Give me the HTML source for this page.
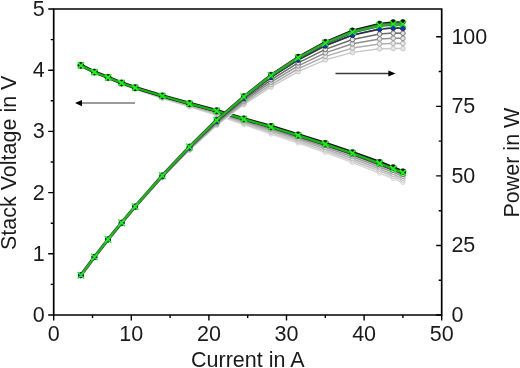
<!DOCTYPE html>
<html><head><meta charset="utf-8"><style>
html,body{margin:0;padding:0;background:#fff;}
svg{display:block;}
text{font-family:"Liberation Sans",Arial,sans-serif;font-size:21.5px;fill:#1a1a1a;}
</style></head><body>
<svg width="520" height="368" viewBox="0 0 520 368">
<rect width="520" height="368" fill="#fff"/>
<g><polyline points="80.86,66.01 94.44,72.94 108.02,78.40 121.60,84.28 135.18,89.17 162.34,98.47 189.50,106.86 216.66,115.18 243.82,124.55 270.98,134.03 298.14,143.11 325.30,152.55 352.46,162.61 379.62,173.14 393.20,178.52 402.90,182.38" fill="none" stroke="#d8d8d8" stroke-width="1.6" stroke-linejoin="round"/>
<circle cx="80.86" cy="66.01" r="2.2" fill="#f0f0f0" stroke="#d8d8d8" stroke-width="0.9"/><circle cx="94.44" cy="72.94" r="2.2" fill="#f0f0f0" stroke="#d8d8d8" stroke-width="0.9"/><circle cx="108.02" cy="78.40" r="2.2" fill="#f0f0f0" stroke="#d8d8d8" stroke-width="0.9"/><circle cx="121.60" cy="84.28" r="2.2" fill="#f0f0f0" stroke="#d8d8d8" stroke-width="0.9"/><circle cx="135.18" cy="89.17" r="2.2" fill="#f0f0f0" stroke="#d8d8d8" stroke-width="0.9"/><circle cx="162.34" cy="98.47" r="2.2" fill="#f0f0f0" stroke="#d8d8d8" stroke-width="0.9"/><circle cx="189.50" cy="106.86" r="2.2" fill="#f0f0f0" stroke="#d8d8d8" stroke-width="0.9"/><circle cx="216.66" cy="115.18" r="2.2" fill="#f0f0f0" stroke="#d8d8d8" stroke-width="0.9"/><circle cx="243.82" cy="124.55" r="2.2" fill="#f0f0f0" stroke="#d8d8d8" stroke-width="0.9"/><circle cx="270.98" cy="134.03" r="2.2" fill="#f0f0f0" stroke="#d8d8d8" stroke-width="0.9"/><circle cx="298.14" cy="143.11" r="2.2" fill="#f0f0f0" stroke="#d8d8d8" stroke-width="0.9"/><circle cx="325.30" cy="152.55" r="2.2" fill="#f0f0f0" stroke="#d8d8d8" stroke-width="0.9"/><circle cx="352.46" cy="162.61" r="2.2" fill="#f0f0f0" stroke="#d8d8d8" stroke-width="0.9"/><circle cx="379.62" cy="173.14" r="2.2" fill="#f0f0f0" stroke="#d8d8d8" stroke-width="0.9"/><circle cx="393.20" cy="178.52" r="2.2" fill="#f0f0f0" stroke="#d8d8d8" stroke-width="0.9"/><circle cx="402.90" cy="182.38" r="2.2" fill="#f0f0f0" stroke="#d8d8d8" stroke-width="0.9"/>
<polyline points="80.86,65.89 94.44,72.78 108.02,78.20 121.60,84.02 135.18,88.86 162.34,97.96 189.50,106.19 216.66,114.31 243.82,123.41 270.98,132.54 298.14,141.49 325.30,150.78 352.46,160.66 379.62,171.08 393.20,176.47 402.90,180.37" fill="none" stroke="#c6c6c6" stroke-width="1.6" stroke-linejoin="round"/>
<circle cx="80.86" cy="65.89" r="2.2" fill="#f0f0f0" stroke="#c6c6c6" stroke-width="0.9"/><circle cx="94.44" cy="72.78" r="2.2" fill="#f0f0f0" stroke="#c6c6c6" stroke-width="0.9"/><circle cx="108.02" cy="78.20" r="2.2" fill="#f0f0f0" stroke="#c6c6c6" stroke-width="0.9"/><circle cx="121.60" cy="84.02" r="2.2" fill="#f0f0f0" stroke="#c6c6c6" stroke-width="0.9"/><circle cx="135.18" cy="88.86" r="2.2" fill="#f0f0f0" stroke="#c6c6c6" stroke-width="0.9"/><circle cx="162.34" cy="97.96" r="2.2" fill="#f0f0f0" stroke="#c6c6c6" stroke-width="0.9"/><circle cx="189.50" cy="106.19" r="2.2" fill="#f0f0f0" stroke="#c6c6c6" stroke-width="0.9"/><circle cx="216.66" cy="114.31" r="2.2" fill="#f0f0f0" stroke="#c6c6c6" stroke-width="0.9"/><circle cx="243.82" cy="123.41" r="2.2" fill="#f0f0f0" stroke="#c6c6c6" stroke-width="0.9"/><circle cx="270.98" cy="132.54" r="2.2" fill="#f0f0f0" stroke="#c6c6c6" stroke-width="0.9"/><circle cx="298.14" cy="141.49" r="2.2" fill="#f0f0f0" stroke="#c6c6c6" stroke-width="0.9"/><circle cx="325.30" cy="150.78" r="2.2" fill="#f0f0f0" stroke="#c6c6c6" stroke-width="0.9"/><circle cx="352.46" cy="160.66" r="2.2" fill="#f0f0f0" stroke="#c6c6c6" stroke-width="0.9"/><circle cx="379.62" cy="171.08" r="2.2" fill="#f0f0f0" stroke="#c6c6c6" stroke-width="0.9"/><circle cx="393.20" cy="176.47" r="2.2" fill="#f0f0f0" stroke="#c6c6c6" stroke-width="0.9"/><circle cx="402.90" cy="180.37" r="2.2" fill="#f0f0f0" stroke="#c6c6c6" stroke-width="0.9"/>
<polyline points="80.86,65.77 94.44,72.61 108.02,77.99 121.60,83.76 135.18,88.56 162.34,97.45 189.50,105.52 216.66,113.43 243.82,122.28 270.98,131.05 298.14,139.86 325.30,149.01 352.46,158.70 379.62,169.03 393.20,174.41 402.90,178.37" fill="none" stroke="#b2b2b2" stroke-width="1.6" stroke-linejoin="round"/>
<circle cx="80.86" cy="65.77" r="2.2" fill="#f0f0f0" stroke="#b2b2b2" stroke-width="0.9"/><circle cx="94.44" cy="72.61" r="2.2" fill="#f0f0f0" stroke="#b2b2b2" stroke-width="0.9"/><circle cx="108.02" cy="77.99" r="2.2" fill="#f0f0f0" stroke="#b2b2b2" stroke-width="0.9"/><circle cx="121.60" cy="83.76" r="2.2" fill="#f0f0f0" stroke="#b2b2b2" stroke-width="0.9"/><circle cx="135.18" cy="88.56" r="2.2" fill="#f0f0f0" stroke="#b2b2b2" stroke-width="0.9"/><circle cx="162.34" cy="97.45" r="2.2" fill="#f0f0f0" stroke="#b2b2b2" stroke-width="0.9"/><circle cx="189.50" cy="105.52" r="2.2" fill="#f0f0f0" stroke="#b2b2b2" stroke-width="0.9"/><circle cx="216.66" cy="113.43" r="2.2" fill="#f0f0f0" stroke="#b2b2b2" stroke-width="0.9"/><circle cx="243.82" cy="122.28" r="2.2" fill="#f0f0f0" stroke="#b2b2b2" stroke-width="0.9"/><circle cx="270.98" cy="131.05" r="2.2" fill="#f0f0f0" stroke="#b2b2b2" stroke-width="0.9"/><circle cx="298.14" cy="139.86" r="2.2" fill="#f0f0f0" stroke="#b2b2b2" stroke-width="0.9"/><circle cx="325.30" cy="149.01" r="2.2" fill="#f0f0f0" stroke="#b2b2b2" stroke-width="0.9"/><circle cx="352.46" cy="158.70" r="2.2" fill="#f0f0f0" stroke="#b2b2b2" stroke-width="0.9"/><circle cx="379.62" cy="169.03" r="2.2" fill="#f0f0f0" stroke="#b2b2b2" stroke-width="0.9"/><circle cx="393.20" cy="174.41" r="2.2" fill="#f0f0f0" stroke="#b2b2b2" stroke-width="0.9"/><circle cx="402.90" cy="178.37" r="2.2" fill="#f0f0f0" stroke="#b2b2b2" stroke-width="0.9"/>
<polyline points="80.86,65.64 94.44,72.45 108.02,77.78 121.60,83.50 135.18,88.25 162.34,96.93 189.50,104.85 216.66,112.56 243.82,121.15 270.98,129.56 298.14,138.24 325.30,147.25 352.46,156.75 379.62,166.97 393.20,172.36 402.90,176.36" fill="none" stroke="#9a9a9a" stroke-width="1.6" stroke-linejoin="round"/>
<circle cx="80.86" cy="65.64" r="2.2" fill="#f0f0f0" stroke="#9a9a9a" stroke-width="0.9"/><circle cx="94.44" cy="72.45" r="2.2" fill="#f0f0f0" stroke="#9a9a9a" stroke-width="0.9"/><circle cx="108.02" cy="77.78" r="2.2" fill="#f0f0f0" stroke="#9a9a9a" stroke-width="0.9"/><circle cx="121.60" cy="83.50" r="2.2" fill="#f0f0f0" stroke="#9a9a9a" stroke-width="0.9"/><circle cx="135.18" cy="88.25" r="2.2" fill="#f0f0f0" stroke="#9a9a9a" stroke-width="0.9"/><circle cx="162.34" cy="96.93" r="2.2" fill="#f0f0f0" stroke="#9a9a9a" stroke-width="0.9"/><circle cx="189.50" cy="104.85" r="2.2" fill="#f0f0f0" stroke="#9a9a9a" stroke-width="0.9"/><circle cx="216.66" cy="112.56" r="2.2" fill="#f0f0f0" stroke="#9a9a9a" stroke-width="0.9"/><circle cx="243.82" cy="121.15" r="2.2" fill="#f0f0f0" stroke="#9a9a9a" stroke-width="0.9"/><circle cx="270.98" cy="129.56" r="2.2" fill="#f0f0f0" stroke="#9a9a9a" stroke-width="0.9"/><circle cx="298.14" cy="138.24" r="2.2" fill="#f0f0f0" stroke="#9a9a9a" stroke-width="0.9"/><circle cx="325.30" cy="147.25" r="2.2" fill="#f0f0f0" stroke="#9a9a9a" stroke-width="0.9"/><circle cx="352.46" cy="156.75" r="2.2" fill="#f0f0f0" stroke="#9a9a9a" stroke-width="0.9"/><circle cx="379.62" cy="166.97" r="2.2" fill="#f0f0f0" stroke="#9a9a9a" stroke-width="0.9"/><circle cx="393.20" cy="172.36" r="2.2" fill="#f0f0f0" stroke="#9a9a9a" stroke-width="0.9"/><circle cx="402.90" cy="176.36" r="2.2" fill="#f0f0f0" stroke="#9a9a9a" stroke-width="0.9"/>
<polyline points="80.86,65.52 94.44,72.28 108.02,77.58 121.60,83.25 135.18,87.94 162.34,96.42 189.50,104.19 216.66,111.69 243.82,120.02 270.98,128.07 298.14,136.62 325.30,145.48 352.46,154.80 379.62,164.91 393.20,170.30 402.90,174.36" fill="none" stroke="#4a4a4a" stroke-width="1.6" stroke-linejoin="round"/>
<circle cx="80.86" cy="65.52" r="2.2" fill="#f0f0f0" stroke="#4a4a4a" stroke-width="0.9"/><circle cx="94.44" cy="72.28" r="2.2" fill="#f0f0f0" stroke="#4a4a4a" stroke-width="0.9"/><circle cx="108.02" cy="77.58" r="2.2" fill="#f0f0f0" stroke="#4a4a4a" stroke-width="0.9"/><circle cx="121.60" cy="83.25" r="2.2" fill="#f0f0f0" stroke="#4a4a4a" stroke-width="0.9"/><circle cx="135.18" cy="87.94" r="2.2" fill="#f0f0f0" stroke="#4a4a4a" stroke-width="0.9"/><circle cx="162.34" cy="96.42" r="2.2" fill="#f0f0f0" stroke="#4a4a4a" stroke-width="0.9"/><circle cx="189.50" cy="104.19" r="2.2" fill="#f0f0f0" stroke="#4a4a4a" stroke-width="0.9"/><circle cx="216.66" cy="111.69" r="2.2" fill="#f0f0f0" stroke="#4a4a4a" stroke-width="0.9"/><circle cx="243.82" cy="120.02" r="2.2" fill="#f0f0f0" stroke="#4a4a4a" stroke-width="0.9"/><circle cx="270.98" cy="128.07" r="2.2" fill="#f0f0f0" stroke="#4a4a4a" stroke-width="0.9"/><circle cx="298.14" cy="136.62" r="2.2" fill="#f0f0f0" stroke="#4a4a4a" stroke-width="0.9"/><circle cx="325.30" cy="145.48" r="2.2" fill="#f0f0f0" stroke="#4a4a4a" stroke-width="0.9"/><circle cx="352.46" cy="154.80" r="2.2" fill="#f0f0f0" stroke="#4a4a4a" stroke-width="0.9"/><circle cx="379.62" cy="164.91" r="2.2" fill="#f0f0f0" stroke="#4a4a4a" stroke-width="0.9"/><circle cx="393.20" cy="170.30" r="2.2" fill="#f0f0f0" stroke="#4a4a4a" stroke-width="0.9"/><circle cx="402.90" cy="174.36" r="2.2" fill="#f0f0f0" stroke="#4a4a4a" stroke-width="0.9"/>
<polyline points="80.86,65.32 94.44,72.04 108.02,77.30 121.60,82.91 135.18,87.55 162.34,95.83 189.50,103.43 216.66,110.70 243.82,118.76 270.98,126.45 298.14,134.79 325.30,143.42 352.46,152.48 379.62,162.38 393.20,167.69 402.90,171.73" fill="none" stroke="#111" stroke-width="3.3" stroke-linejoin="round"/>
<circle cx="80.86" cy="65.32" r="3.1" fill="#111" stroke="#000" stroke-width="0.5"/><circle cx="94.44" cy="72.04" r="3.1" fill="#111" stroke="#000" stroke-width="0.5"/><circle cx="108.02" cy="77.30" r="3.1" fill="#111" stroke="#000" stroke-width="0.5"/><circle cx="121.60" cy="82.91" r="3.1" fill="#111" stroke="#000" stroke-width="0.5"/><circle cx="135.18" cy="87.55" r="3.1" fill="#111" stroke="#000" stroke-width="0.5"/><circle cx="162.34" cy="95.83" r="3.1" fill="#111" stroke="#000" stroke-width="0.5"/><circle cx="189.50" cy="103.43" r="3.1" fill="#111" stroke="#000" stroke-width="0.5"/><circle cx="216.66" cy="110.70" r="3.1" fill="#111" stroke="#000" stroke-width="0.5"/><circle cx="243.82" cy="118.76" r="3.1" fill="#111" stroke="#000" stroke-width="0.5"/><circle cx="270.98" cy="126.45" r="3.1" fill="#111" stroke="#000" stroke-width="0.5"/><circle cx="298.14" cy="134.79" r="3.1" fill="#111" stroke="#000" stroke-width="0.5"/><circle cx="325.30" cy="143.42" r="3.1" fill="#111" stroke="#000" stroke-width="0.5"/><circle cx="352.46" cy="152.48" r="3.1" fill="#111" stroke="#000" stroke-width="0.5"/><circle cx="379.62" cy="162.38" r="3.1" fill="#111" stroke="#000" stroke-width="0.5"/><circle cx="393.20" cy="167.69" r="3.1" fill="#111" stroke="#000" stroke-width="0.5"/><circle cx="402.90" cy="171.73" r="3.1" fill="#111" stroke="#000" stroke-width="0.5"/>
<polyline points="80.86,65.43 94.44,72.16 108.02,77.42 121.60,83.05 135.18,87.70 162.34,96.03 189.50,103.68 216.66,111.02 243.82,119.16 270.98,126.93 298.14,135.38 325.30,144.13 352.46,153.31 379.62,163.35 393.20,168.73 402.90,172.83" fill="none" stroke="#16b816" stroke-width="2.2" stroke-linejoin="round"/>
<path d="M77.76,62.33L83.96,68.53M77.76,68.53L83.96,62.33M91.34,69.06L97.54,75.26M91.34,75.26L97.54,69.06M104.92,74.32L111.12,80.52M104.92,80.52L111.12,74.32M118.50,79.95L124.70,86.15M118.50,86.15L124.70,79.95M132.08,84.60L138.28,90.80M132.08,90.80L138.28,84.60M159.24,92.93L165.44,99.13M159.24,99.13L165.44,92.93M186.40,100.58L192.60,106.78M186.40,106.78L192.60,100.58M213.56,107.92L219.76,114.12M213.56,114.12L219.76,107.92M240.72,116.06L246.92,122.26M240.72,122.26L246.92,116.06M267.88,123.83L274.08,130.03M267.88,130.03L274.08,123.83M295.04,132.28L301.24,138.48M295.04,138.48L301.24,132.28M322.20,141.03L328.40,147.23M322.20,147.23L328.40,141.03M349.36,150.21L355.56,156.41M349.36,156.41L355.56,150.21M376.52,160.25L382.72,166.45M376.52,166.45L382.72,160.25M390.10,165.63L396.30,171.83M390.10,171.83L396.30,165.63M399.80,169.73L406.00,175.93M399.80,175.93L406.00,169.73" stroke="#22ee22" stroke-width="1.8" fill="none"/>
<path d="M218.54,122.62L236.20,107.42" stroke="#fff" stroke-width="5.5"/>
<polyline points="80.86,275.41 94.44,257.28 108.02,239.79 121.60,223.35 135.18,207.39 162.34,177.59 189.50,150.06 216.66,125.25 243.82,104.39 270.98,86.92 298.14,71.64 325.30,59.89 352.46,52.37 379.62,48.83 393.20,48.45 402.90,48.60" fill="none" stroke="#c8c8c8" stroke-width="1.5" stroke-linejoin="round"/>
<circle cx="80.86" cy="275.41" r="2.3" fill="#e6e6e6" stroke="#c8c8c8" stroke-width="1.0"/><circle cx="94.44" cy="257.28" r="2.3" fill="#e6e6e6" stroke="#c8c8c8" stroke-width="1.0"/><circle cx="108.02" cy="239.79" r="2.3" fill="#e6e6e6" stroke="#c8c8c8" stroke-width="1.0"/><circle cx="121.60" cy="223.35" r="2.3" fill="#e6e6e6" stroke="#c8c8c8" stroke-width="1.0"/><circle cx="135.18" cy="207.39" r="2.3" fill="#e6e6e6" stroke="#c8c8c8" stroke-width="1.0"/><circle cx="162.34" cy="177.59" r="2.3" fill="#e6e6e6" stroke="#c8c8c8" stroke-width="1.0"/><circle cx="189.50" cy="150.06" r="2.3" fill="#e6e6e6" stroke="#c8c8c8" stroke-width="1.0"/><circle cx="216.66" cy="125.25" r="2.3" fill="#e6e6e6" stroke="#c8c8c8" stroke-width="1.0"/><circle cx="243.82" cy="104.39" r="2.3" fill="#e6e6e6" stroke="#c8c8c8" stroke-width="1.0"/><circle cx="270.98" cy="86.92" r="2.3" fill="#e6e6e6" stroke="#c8c8c8" stroke-width="1.0"/><circle cx="298.14" cy="71.64" r="2.3" fill="#e6e6e6" stroke="#c8c8c8" stroke-width="1.0"/><circle cx="325.30" cy="59.89" r="2.3" fill="#e6e6e6" stroke="#c8c8c8" stroke-width="1.0"/><circle cx="352.46" cy="52.37" r="2.3" fill="#e6e6e6" stroke="#c8c8c8" stroke-width="1.0"/><circle cx="379.62" cy="48.83" r="2.3" fill="#e6e6e6" stroke="#c8c8c8" stroke-width="1.0"/><circle cx="393.20" cy="48.45" r="2.3" fill="#e6e6e6" stroke="#c8c8c8" stroke-width="1.0"/><circle cx="402.90" cy="48.60" r="2.3" fill="#e6e6e6" stroke="#c8c8c8" stroke-width="1.0"/>
<polyline points="80.86,275.38 94.44,257.23 108.02,239.71 121.60,223.22 135.18,207.20 162.34,177.18 189.50,149.39 216.66,124.20 243.82,102.81 270.98,84.55 298.14,68.74 325.30,56.37 352.46,48.10 379.62,43.92 393.20,43.34 402.90,43.47" fill="none" stroke="#adadad" stroke-width="1.5" stroke-linejoin="round"/>
<circle cx="80.86" cy="275.38" r="2.3" fill="#e6e6e6" stroke="#adadad" stroke-width="1.0"/><circle cx="94.44" cy="257.23" r="2.3" fill="#e6e6e6" stroke="#adadad" stroke-width="1.0"/><circle cx="108.02" cy="239.71" r="2.3" fill="#e6e6e6" stroke="#adadad" stroke-width="1.0"/><circle cx="121.60" cy="223.22" r="2.3" fill="#e6e6e6" stroke="#adadad" stroke-width="1.0"/><circle cx="135.18" cy="207.20" r="2.3" fill="#e6e6e6" stroke="#adadad" stroke-width="1.0"/><circle cx="162.34" cy="177.18" r="2.3" fill="#e6e6e6" stroke="#adadad" stroke-width="1.0"/><circle cx="189.50" cy="149.39" r="2.3" fill="#e6e6e6" stroke="#adadad" stroke-width="1.0"/><circle cx="216.66" cy="124.20" r="2.3" fill="#e6e6e6" stroke="#adadad" stroke-width="1.0"/><circle cx="243.82" cy="102.81" r="2.3" fill="#e6e6e6" stroke="#adadad" stroke-width="1.0"/><circle cx="270.98" cy="84.55" r="2.3" fill="#e6e6e6" stroke="#adadad" stroke-width="1.0"/><circle cx="298.14" cy="68.74" r="2.3" fill="#e6e6e6" stroke="#adadad" stroke-width="1.0"/><circle cx="325.30" cy="56.37" r="2.3" fill="#e6e6e6" stroke="#adadad" stroke-width="1.0"/><circle cx="352.46" cy="48.10" r="2.3" fill="#e6e6e6" stroke="#adadad" stroke-width="1.0"/><circle cx="379.62" cy="43.92" r="2.3" fill="#e6e6e6" stroke="#adadad" stroke-width="1.0"/><circle cx="393.20" cy="43.34" r="2.3" fill="#e6e6e6" stroke="#adadad" stroke-width="1.0"/><circle cx="402.90" cy="43.47" r="2.3" fill="#e6e6e6" stroke="#adadad" stroke-width="1.0"/>
<polyline points="80.86,275.36 94.44,257.18 108.02,239.63 121.60,223.09 135.18,207.02 162.34,176.77 189.50,148.73 216.66,123.16 243.82,101.24 270.98,82.18 298.14,65.83 325.30,52.86 352.46,43.83 379.62,39.01 393.20,38.23 402.90,38.34" fill="none" stroke="#8e8e8e" stroke-width="1.5" stroke-linejoin="round"/>
<circle cx="80.86" cy="275.36" r="2.3" fill="#e6e6e6" stroke="#8e8e8e" stroke-width="1.0"/><circle cx="94.44" cy="257.18" r="2.3" fill="#e6e6e6" stroke="#8e8e8e" stroke-width="1.0"/><circle cx="108.02" cy="239.63" r="2.3" fill="#e6e6e6" stroke="#8e8e8e" stroke-width="1.0"/><circle cx="121.60" cy="223.09" r="2.3" fill="#e6e6e6" stroke="#8e8e8e" stroke-width="1.0"/><circle cx="135.18" cy="207.02" r="2.3" fill="#e6e6e6" stroke="#8e8e8e" stroke-width="1.0"/><circle cx="162.34" cy="176.77" r="2.3" fill="#e6e6e6" stroke="#8e8e8e" stroke-width="1.0"/><circle cx="189.50" cy="148.73" r="2.3" fill="#e6e6e6" stroke="#8e8e8e" stroke-width="1.0"/><circle cx="216.66" cy="123.16" r="2.3" fill="#e6e6e6" stroke="#8e8e8e" stroke-width="1.0"/><circle cx="243.82" cy="101.24" r="2.3" fill="#e6e6e6" stroke="#8e8e8e" stroke-width="1.0"/><circle cx="270.98" cy="82.18" r="2.3" fill="#e6e6e6" stroke="#8e8e8e" stroke-width="1.0"/><circle cx="298.14" cy="65.83" r="2.3" fill="#e6e6e6" stroke="#8e8e8e" stroke-width="1.0"/><circle cx="325.30" cy="52.86" r="2.3" fill="#e6e6e6" stroke="#8e8e8e" stroke-width="1.0"/><circle cx="352.46" cy="43.83" r="2.3" fill="#e6e6e6" stroke="#8e8e8e" stroke-width="1.0"/><circle cx="379.62" cy="39.01" r="2.3" fill="#e6e6e6" stroke="#8e8e8e" stroke-width="1.0"/><circle cx="393.20" cy="38.23" r="2.3" fill="#e6e6e6" stroke="#8e8e8e" stroke-width="1.0"/><circle cx="402.90" cy="38.34" r="2.3" fill="#e6e6e6" stroke="#8e8e8e" stroke-width="1.0"/>
<polyline points="80.86,275.34 94.44,257.13 108.02,239.55 121.60,222.97 135.18,206.83 162.34,176.36 189.50,148.06 216.66,122.12 243.82,99.67 270.98,79.80 298.14,62.92 325.30,49.34 352.46,39.55 379.62,34.11 393.20,33.11 402.90,33.22" fill="none" stroke="#6c6c6c" stroke-width="1.5" stroke-linejoin="round"/>
<circle cx="80.86" cy="275.34" r="2.3" fill="#e6e6e6" stroke="#6c6c6c" stroke-width="1.0"/><circle cx="94.44" cy="257.13" r="2.3" fill="#e6e6e6" stroke="#6c6c6c" stroke-width="1.0"/><circle cx="108.02" cy="239.55" r="2.3" fill="#e6e6e6" stroke="#6c6c6c" stroke-width="1.0"/><circle cx="121.60" cy="222.97" r="2.3" fill="#e6e6e6" stroke="#6c6c6c" stroke-width="1.0"/><circle cx="135.18" cy="206.83" r="2.3" fill="#e6e6e6" stroke="#6c6c6c" stroke-width="1.0"/><circle cx="162.34" cy="176.36" r="2.3" fill="#e6e6e6" stroke="#6c6c6c" stroke-width="1.0"/><circle cx="189.50" cy="148.06" r="2.3" fill="#e6e6e6" stroke="#6c6c6c" stroke-width="1.0"/><circle cx="216.66" cy="122.12" r="2.3" fill="#e6e6e6" stroke="#6c6c6c" stroke-width="1.0"/><circle cx="243.82" cy="99.67" r="2.3" fill="#e6e6e6" stroke="#6c6c6c" stroke-width="1.0"/><circle cx="270.98" cy="79.80" r="2.3" fill="#e6e6e6" stroke="#6c6c6c" stroke-width="1.0"/><circle cx="298.14" cy="62.92" r="2.3" fill="#e6e6e6" stroke="#6c6c6c" stroke-width="1.0"/><circle cx="325.30" cy="49.34" r="2.3" fill="#e6e6e6" stroke="#6c6c6c" stroke-width="1.0"/><circle cx="352.46" cy="39.55" r="2.3" fill="#e6e6e6" stroke="#6c6c6c" stroke-width="1.0"/><circle cx="379.62" cy="34.11" r="2.3" fill="#e6e6e6" stroke="#6c6c6c" stroke-width="1.0"/><circle cx="393.20" cy="33.11" r="2.3" fill="#e6e6e6" stroke="#6c6c6c" stroke-width="1.0"/><circle cx="402.90" cy="33.22" r="2.3" fill="#e6e6e6" stroke="#6c6c6c" stroke-width="1.0"/>
<polyline points="80.86,275.31 94.44,257.08 108.02,239.46 121.60,222.84 135.18,206.65 162.34,175.96 189.50,147.40 216.66,121.07 243.82,98.09 270.98,77.43 298.14,60.01 325.30,45.82 352.46,35.28 379.62,29.20 393.20,28.00 402.90,28.09" fill="none" stroke="#3c3c3c" stroke-width="1.5" stroke-linejoin="round"/>
<circle cx="80.86" cy="275.31" r="2.3" fill="#e6e6e6" stroke="#3c3c3c" stroke-width="1.0"/><circle cx="94.44" cy="257.08" r="2.3" fill="#e6e6e6" stroke="#3c3c3c" stroke-width="1.0"/><circle cx="108.02" cy="239.46" r="2.3" fill="#e6e6e6" stroke="#3c3c3c" stroke-width="1.0"/><circle cx="121.60" cy="222.84" r="2.3" fill="#e6e6e6" stroke="#3c3c3c" stroke-width="1.0"/><circle cx="135.18" cy="206.65" r="2.3" fill="#e6e6e6" stroke="#3c3c3c" stroke-width="1.0"/><circle cx="162.34" cy="175.96" r="2.3" fill="#e6e6e6" stroke="#3c3c3c" stroke-width="1.0"/><circle cx="189.50" cy="147.40" r="2.3" fill="#e6e6e6" stroke="#3c3c3c" stroke-width="1.0"/><circle cx="216.66" cy="121.07" r="2.3" fill="#e6e6e6" stroke="#3c3c3c" stroke-width="1.0"/><circle cx="243.82" cy="98.09" r="2.3" fill="#e6e6e6" stroke="#3c3c3c" stroke-width="1.0"/><circle cx="270.98" cy="77.43" r="2.3" fill="#e6e6e6" stroke="#3c3c3c" stroke-width="1.0"/><circle cx="298.14" cy="60.01" r="2.3" fill="#e6e6e6" stroke="#3c3c3c" stroke-width="1.0"/><circle cx="325.30" cy="45.82" r="2.3" fill="#e6e6e6" stroke="#3c3c3c" stroke-width="1.0"/><circle cx="352.46" cy="35.28" r="2.3" fill="#e6e6e6" stroke="#3c3c3c" stroke-width="1.0"/><circle cx="379.62" cy="29.20" r="2.3" fill="#e6e6e6" stroke="#3c3c3c" stroke-width="1.0"/><circle cx="393.20" cy="28.00" r="2.3" fill="#e6e6e6" stroke="#3c3c3c" stroke-width="1.0"/><circle cx="402.90" cy="28.09" r="2.3" fill="#e6e6e6" stroke="#3c3c3c" stroke-width="1.0"/>
<polyline points="80.86,275.08 94.44,256.82 108.02,239.15 121.60,222.47 135.18,206.20 162.34,175.25 189.50,146.39 216.66,119.64 243.82,96.10 270.98,74.65 298.14,56.62 325.30,41.73 352.46,30.36 379.62,23.52 393.20,22.02 402.90,21.98" fill="none" stroke="#111" stroke-width="1.6" stroke-linejoin="round"/>
<circle cx="80.86" cy="275.08" r="2.5" fill="#111" stroke="#000" stroke-width="0.6"/><circle cx="94.44" cy="256.82" r="2.5" fill="#111" stroke="#000" stroke-width="0.6"/><circle cx="108.02" cy="239.15" r="2.5" fill="#111" stroke="#000" stroke-width="0.6"/><circle cx="121.60" cy="222.47" r="2.5" fill="#111" stroke="#000" stroke-width="0.6"/><circle cx="135.18" cy="206.20" r="2.5" fill="#111" stroke="#000" stroke-width="0.6"/><circle cx="162.34" cy="175.25" r="2.5" fill="#111" stroke="#000" stroke-width="0.6"/><circle cx="189.50" cy="146.39" r="2.5" fill="#111" stroke="#000" stroke-width="0.6"/><circle cx="216.66" cy="119.64" r="2.5" fill="#111" stroke="#000" stroke-width="0.6"/><circle cx="243.82" cy="96.10" r="2.5" fill="#111" stroke="#000" stroke-width="0.6"/><circle cx="270.98" cy="74.65" r="2.5" fill="#111" stroke="#000" stroke-width="0.6"/><circle cx="298.14" cy="56.62" r="2.5" fill="#111" stroke="#000" stroke-width="0.6"/><circle cx="325.30" cy="41.73" r="2.5" fill="#111" stroke="#000" stroke-width="0.6"/><circle cx="352.46" cy="30.36" r="2.5" fill="#111" stroke="#000" stroke-width="0.6"/><circle cx="379.62" cy="23.52" r="2.5" fill="#111" stroke="#000" stroke-width="0.6"/><circle cx="393.20" cy="22.02" r="2.5" fill="#111" stroke="#000" stroke-width="0.6"/><circle cx="402.90" cy="21.98" r="2.5" fill="#111" stroke="#000" stroke-width="0.6"/>
<polyline points="80.86,275.42 94.44,257.20 108.02,239.59 121.60,222.99 135.18,206.82 162.34,176.11 189.50,147.56 216.66,121.20 243.82,98.11 270.98,77.19 298.14,59.75 325.30,45.53 352.46,34.90 379.62,28.86 393.20,27.79 402.90,28.07" fill="none" stroke="#26304e" stroke-width="1.3" stroke-linejoin="round"/>
<circle cx="80.86" cy="275.42" r="2.6" fill="#1a35a8" stroke="#0a1860" stroke-width="0.5"/><circle cx="94.44" cy="257.20" r="2.6" fill="#1a35a8" stroke="#0a1860" stroke-width="0.5"/><circle cx="108.02" cy="239.59" r="2.6" fill="#1a35a8" stroke="#0a1860" stroke-width="0.5"/><circle cx="121.60" cy="222.99" r="2.6" fill="#1a35a8" stroke="#0a1860" stroke-width="0.5"/><circle cx="135.18" cy="206.82" r="2.6" fill="#1a35a8" stroke="#0a1860" stroke-width="0.5"/><circle cx="162.34" cy="176.11" r="2.6" fill="#1a35a8" stroke="#0a1860" stroke-width="0.5"/><circle cx="189.50" cy="147.56" r="2.6" fill="#1a35a8" stroke="#0a1860" stroke-width="0.5"/><circle cx="216.66" cy="121.20" r="2.6" fill="#1a35a8" stroke="#0a1860" stroke-width="0.5"/><circle cx="243.82" cy="98.11" r="2.6" fill="#1a35a8" stroke="#0a1860" stroke-width="0.5"/><circle cx="270.98" cy="77.19" r="2.6" fill="#1a35a8" stroke="#0a1860" stroke-width="0.5"/><circle cx="298.14" cy="59.75" r="2.6" fill="#1a35a8" stroke="#0a1860" stroke-width="0.5"/><circle cx="325.30" cy="45.53" r="2.6" fill="#1a35a8" stroke="#0a1860" stroke-width="0.5"/><circle cx="352.46" cy="34.90" r="2.6" fill="#1a35a8" stroke="#0a1860" stroke-width="0.5"/><circle cx="379.62" cy="28.86" r="2.6" fill="#1a35a8" stroke="#0a1860" stroke-width="0.5"/><circle cx="393.20" cy="27.79" r="2.6" fill="#1a35a8" stroke="#0a1860" stroke-width="0.5"/><circle cx="402.90" cy="28.07" r="2.6" fill="#1a35a8" stroke="#0a1860" stroke-width="0.5"/>
<polyline points="80.86,275.29 94.44,257.05 108.02,239.40 121.60,222.74 135.18,206.51 162.34,175.64 189.50,146.89 216.66,120.28 243.82,96.89 270.98,75.63 298.14,57.80 325.30,43.14 352.46,32.02 379.62,25.46 393.20,24.11 402.90,24.18" fill="none" stroke="#2a602a" stroke-width="3.3" stroke-linejoin="round"/>
<polyline points="80.86,275.29 94.44,257.05 108.02,239.40 121.60,222.74 135.18,206.51 162.34,175.64 189.50,146.89 216.66,120.28 243.82,96.89 270.98,75.63 298.14,57.80 325.30,43.14 352.46,32.02 379.62,25.46 393.20,24.11 402.90,24.18" fill="none" stroke="#2eae2e" stroke-width="2.0" stroke-linejoin="round"/>
<path d="M77.56,271.99L84.16,278.59M77.56,278.59L84.16,271.99M91.14,253.75L97.74,260.35M91.14,260.35L97.74,253.75M104.72,236.10L111.32,242.70M104.72,242.70L111.32,236.10M118.30,219.44L124.90,226.04M118.30,226.04L124.90,219.44M131.88,203.21L138.48,209.81M131.88,209.81L138.48,203.21M159.04,172.34L165.64,178.94M159.04,178.94L165.64,172.34M186.20,143.59L192.80,150.19M186.20,150.19L192.80,143.59M213.36,116.98L219.96,123.58M213.36,123.58L219.96,116.98M240.52,93.59L247.12,100.19M240.52,100.19L247.12,93.59M267.68,72.33L274.28,78.93M267.68,78.93L274.28,72.33M294.84,54.50L301.44,61.10M294.84,61.10L301.44,54.50M322.00,39.84L328.60,46.44M322.00,46.44L328.60,39.84M349.16,28.72L355.76,35.32M349.16,35.32L355.76,28.72M376.32,22.16L382.92,28.76M376.32,28.76L382.92,22.16M389.90,20.81L396.50,27.41M389.90,27.41L396.50,20.81M399.60,20.88L406.20,27.48M399.60,27.48L406.20,20.88" stroke="#22ee22" stroke-width="1.4" fill="none"/></g>
<path d="M135,103.1H80" stroke="#7a7a7a" stroke-width="1.5"/>
<path d="M75,103.1L82,99.9L82,106.3Z" fill="#000"/>
<path d="M335.5,73.5H390" stroke="#3a3a3a" stroke-width="1.4"/>
<path d="M395.5,73.5L388.4,70.4L388.4,76.6Z" fill="#000"/>
<path d="M53.7,9.0H441.7V315.0H53.7Z" fill="none" stroke="#000" stroke-width="1.7"/>
<path d="M48.2,315.00H53.7 M48.2,253.80H53.7 M48.2,192.60H53.7 M48.2,131.40H53.7 M48.2,70.20H53.7 M48.2,9.00H53.7 M50.7,284.40H53.7 M50.7,223.20H53.7 M50.7,162.00H53.7 M50.7,100.80H53.7 M50.7,39.60H53.7 M53.70,315.0V320.5 M131.30,315.0V320.5 M208.90,315.0V320.5 M286.50,315.0V320.5 M364.10,315.0V320.5 M441.70,315.0V320.5 M92.50,315.0V318.0 M170.10,315.0V318.0 M247.70,315.0V318.0 M325.30,315.0V318.0 M402.90,315.0V318.0 M436.2,315.00H441.7 M436.2,245.45H441.7 M436.2,175.90H441.7 M436.2,106.35H441.7 M436.2,36.80H441.7 M438.7,280.23H441.7 M438.7,210.68H441.7 M438.7,141.12H441.7 M438.7,71.57H441.7" stroke="#000" stroke-width="1.4" fill="none"/>
<text x="44.7" y="321.90" text-anchor="end">0</text>
<text x="44.7" y="260.70" text-anchor="end">1</text>
<text x="44.7" y="199.50" text-anchor="end">2</text>
<text x="44.7" y="138.30" text-anchor="end">3</text>
<text x="44.7" y="77.10" text-anchor="end">4</text>
<text x="44.7" y="15.90" text-anchor="end">5</text>
<text x="53.70" y="340.6" text-anchor="middle">0</text>
<text x="131.30" y="340.6" text-anchor="middle">10</text>
<text x="208.90" y="340.6" text-anchor="middle">20</text>
<text x="286.50" y="340.6" text-anchor="middle">30</text>
<text x="364.10" y="340.6" text-anchor="middle">40</text>
<text x="441.70" y="340.6" text-anchor="middle">50</text>
<text x="451.4" y="321.90">0</text>
<text x="451.4" y="252.35">25</text>
<text x="451.4" y="182.80">50</text>
<text x="451.4" y="113.25">75</text>
<text x="451.4" y="43.70">100</text>
<text x="247.8" y="367.2" text-anchor="middle" font-size="22">Current in A</text>
<text transform="translate(16.4,162.8) rotate(-90)" text-anchor="middle" font-size="21.3">Stack Voltage in V</text>
<text transform="translate(518.6,162.6) rotate(-90)" text-anchor="middle" font-size="21.1">Power in W</text>
</svg>
</body></html>
